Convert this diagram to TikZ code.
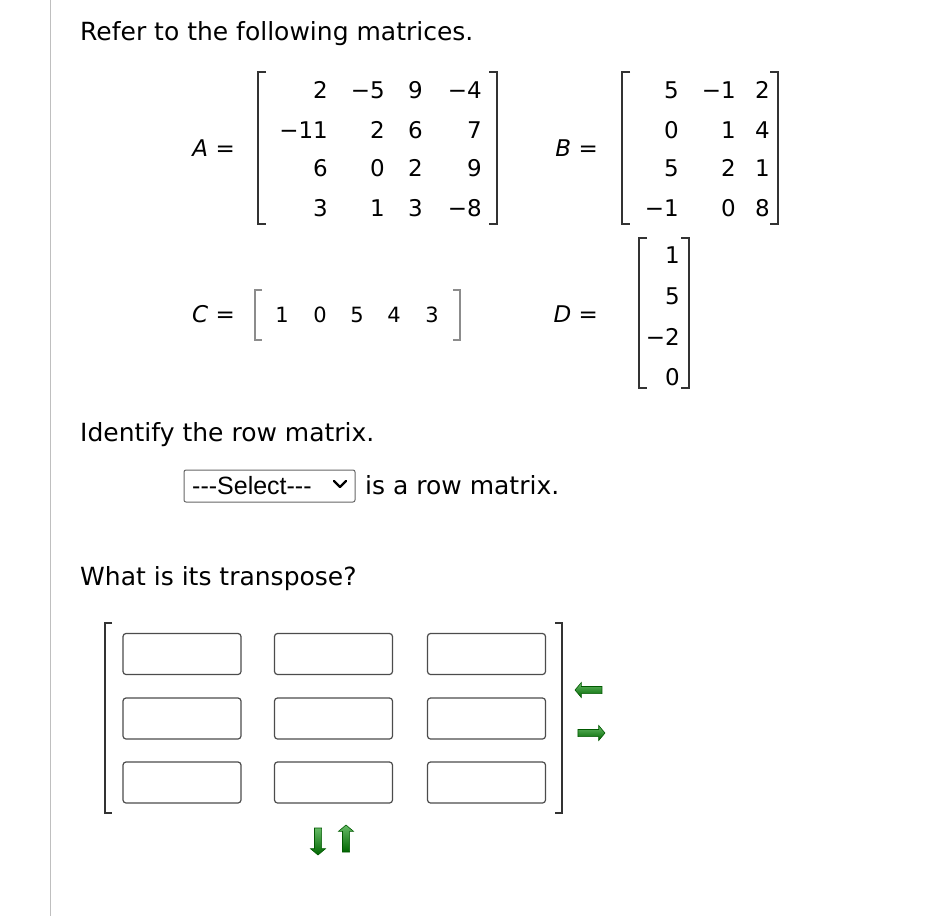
\documentclass[tikz,border=0pt]{standalone}
\usepackage{fontspec}
\setmainfont{DejaVu Sans}
\newfontfamily\arial{Liberation Sans}
\usetikzlibrary{shapes.arrows}
\begin{document}
\begin{tikzpicture}[x=1pt,y=-1pt,
  txt/.style={font=\fontsize{25}{28}\selectfont,anchor=base west,inner sep=0},
  ent/.style={font=\fontsize{23}{26}\selectfont,anchor=east,inner sep=0},
  brk/.style={line width=1.6pt,color=black!80},
  cbrk/.style={line width=1.6pt,color=black!45},
  box/.style={draw=black!70,line width=1.2pt,rounded corners=3pt,minimum width=118pt,minimum height=41pt,inner sep=0},
  garrow/.style={single arrow,draw=green!35!black,top color=green!55!black!60,bottom color=green!40!black,minimum height=27pt,minimum width=15pt,single arrow head extend=2pt,single arrow tip angle=100,inner sep=1.5pt,line width=0.6pt}]
\useasboundingbox (0,0) rectangle (926,916);
\fill[white] (0,0) rectangle (926,916);
\draw[black!25,line width=1pt] (50,0) -- (50,916);
\node[txt] (t1) at (80,40) {Refer to the following matrices.};
% A
\node[ent,anchor=east] (Al) at (235,148) {\itshape A =};
\draw[brk] (266,72) -- (258,72) -- (258,224) -- (266,224);
\draw[brk] (489,72) -- (497,72) -- (497,224) -- (489,224);
\foreach \r/\a/\b/\c/\d/\y in {1/2/−5/9/−4/90, 2/−11/2/6/7/130, 3/6/0/2/9/168, 4/3/1/3/−8/208}{
 \node[ent] (a\r1) at (328,\y) {\a};
 \node[ent] (a\r2) at (385,\y) {\b};
 \node[ent] (a\r3) at (423,\y) {\c};
 \node[ent] (a\r4) at (482,\y) {\d};}
% B
\node[ent] (Bl) at (598,148) {\itshape B =};
\draw[brk] (630,72) -- (622,72) -- (622,224) -- (630,224);
\draw[brk] (770,72) -- (778,72) -- (778,224) -- (770,224);
\foreach \r/\a/\b/\c/\y in {1/5/−1/2/90, 2/0/1/4/130, 3/5/2/1/168, 4/−1/0/8/208}{
 \node[ent] (b\r1) at (679,\y) {\a};
 \node[ent] (b\r2) at (736,\y) {\b};
 \node[ent] (b\r3) at (770,\y) {\c};}
% D
\node[ent] (Dl) at (598,314) {\itshape D =};
\draw[brk] (647,238) -- (639,238) -- (639,388) -- (647,388);
\draw[brk] (681,238) -- (689,238) -- (689,388) -- (681,388);
\foreach \r/\a/\y in {1/1/255, 2/5/296, 3/−2/337, 4/0/377}{
 \node[ent] (d\r) at (680,\y) {\a};}
% C
\node[ent] (Cl) at (235,314) {\itshape C =};
\draw[cbrk] (262,290) -- (255,290) -- (255,340) -- (262,340);
\draw[cbrk] (453,290) -- (460,290) -- (460,340) -- (453,340);
\foreach \i/\v/\x in {1/1/282,2/0/320,3/5/357,4/4/394,5/3/432}{
 \node[font=\fontsize{21}{24}\selectfont,inner sep=0] (c\i) at (\x,315) {\v};}
\node[txt] (t2) at (80,441) {Identify the row matrix.};
\node[draw=black!60,line width=1pt,rounded corners=2pt,minimum width=171pt,minimum height=32pt,inner sep=0] (sel) at (269.5,486) {};
\node[font=\arial\fontsize{25}{28}\selectfont,anchor=west,inner sep=0] (selt) at (192,486) {---Select---};
\draw[line width=2.4pt,line cap=round,line join=round] (334,481) -- (340,487) -- (346,481);
\node[txt] (t3) at (365,494) {is a row matrix.};
\node[txt] (t4) at (80,585) {What is its transpose?};
% transpose matrix
\draw[brk,line width=1.3pt] (112,623) -- (105,623) -- (105,813) -- (112,813);
\draw[brk,line width=1.3pt] (555,623) -- (562,623) -- (562,813) -- (555,813);
\foreach \r/\y in {1/654,2/718.5,3/782.5}{
 \foreach \c/\x in {1/182,2/333.5,3/486.5}{
  \node[box] (m\r\c) at (\x,\y) {};}}
\node[garrow,shape border rotate=180] (al) at (590,690) {};
\node[garrow] (ar) at (590,733) {};
\node[garrow,shape border rotate=270] (ad) at (318,840) {};
\node[garrow,shape border rotate=90] (au) at (346,840) {};
\end{tikzpicture}
\end{document}
